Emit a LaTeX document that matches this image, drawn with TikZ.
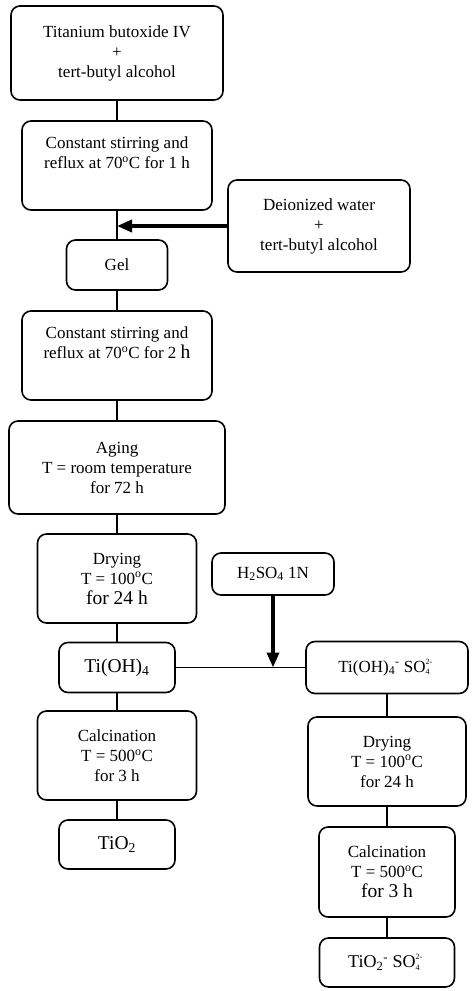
\documentclass[tikz,border=0pt]{standalone}
\usepackage{fontspec}
\setmainfont{Liberation Serif}
\usepackage{tikz}
\usetikzlibrary{arrows.meta}
\newcommand{\degC}{\textsuperscript{o}C}
\newcommand{\sulf}{SO\makebox[0pt][l]{\raisebox{0.45em}{\fontsize{8}{8}\selectfont 2-}}\raisebox{-0.3ex}{\fontsize{8}{8}\selectfont 4}\hspace{0.35em}}
\newcommand{\bigtxt}{\fontsize{19.5}{20}\selectfont}

\begin{document}
\begin{tikzpicture}[x=1pt, y=-1pt, line cap=round, line join=round,
    box/.style={draw, line width=1.6pt, rounded corners=9pt, align=center, inner sep=0pt,
        font=\fontsize{17}{20}\selectfont},
    link/.style={line width=1.3pt},
    feed/.style={line width=3.5pt, -{Triangle[length=15pt,width=12pt]}}]
                \useasboundingbox (0,0) rectangle (474,991);
                \node[box, minimum width=212pt, minimum height=94pt] (tb) at (117,53) {Titanium butoxide IV\\+\\tert-butyl alcohol};
                \node[box, minimum width=190pt, minimum height=89pt] (stir1) at (117,165.5) {Constant stirring and\\reflux at 70\degC{} for 1 h\\\strut};
                \node[box, minimum width=182pt, minimum height=92pt] (water) at (319,226) {Deionized water\\+\\tert-butyl alcohol};
                \node[box, minimum width=101pt, minimum height=50pt] (gel) at (117,265) {Gel};
                \node[box, minimum width=190pt, minimum height=89pt] (stir2) at (117,355.5) {Constant stirring and\\reflux at 70\degC{} for 2 {\bigtxt h}\\\strut};
                \node[box, minimum width=216pt, minimum height=93pt] (aging) at (117,467.5) {Aging\\T = room temperature\\for 72 h};
                \node[box, minimum width=159pt, minimum height=89pt] (dry1) at (117,578.5) {Drying\\T = 100\degC\\{\bigtxt for 24 h}};
                \node[box, minimum width=122pt, minimum height=42pt] (acid) at (273,574) {H\textsubscript{2}SO\textsubscript{4} 1N};
                \node[box, minimum width=116pt, minimum height=50pt, font=\bigtxt] (tioh) at (117,667.5) {Ti(OH)\textsubscript{4}};
                \node[box, minimum width=162pt, minimum height=52pt] (tiohs) at (387,667.5) {Ti(OH)\textsubscript{4}\textsuperscript{-}~\sulf};
                \node[box, minimum width=159pt, minimum height=89pt] (calc1) at (117,755.5) {Calcination\\T = 500\degC\\for 3 h};
                \node[box, minimum width=116pt, minimum height=49pt, font=\bigtxt] (tio2) at (117,844.5) {TiO\textsubscript{2}};
                \node[box, minimum width=158pt, minimum height=89pt] (dry2) at (387,761.5) {Drying\\T = 100\degC\\for 24 h};
                \node[box, minimum width=136pt, minimum height=90pt] (calc2) at (387,872) {Calcination\\T = 500\degC\\{\bigtxt for 3 h}};
                \node[box, minimum width=135pt, minimum height=49pt, font=\fontsize{18}{20}\selectfont] (tio2s) at (387,962.5) {TiO\textsubscript{2}\textsuperscript{-}~\sulf};
                \foreach \u/\v in {tb/stir1, stir1/gel, gel/stir2, stir2/aging, aging/dry1, dry1/tioh, tioh/calc1, calc1/tio2, tiohs/dry2, dry2/calc2, calc2/tio2s}
                    \draw[link] (\u.south) -- (\v.north);
                \draw[link] (tioh.east) -- (tiohs.west);
                \draw[feed] (water.west) -- (water.west -| stir1.south);
                \draw[feed] (acid.south) -- (acid.south |- tioh.east);
            \end{tikzpicture}
\end{document}
